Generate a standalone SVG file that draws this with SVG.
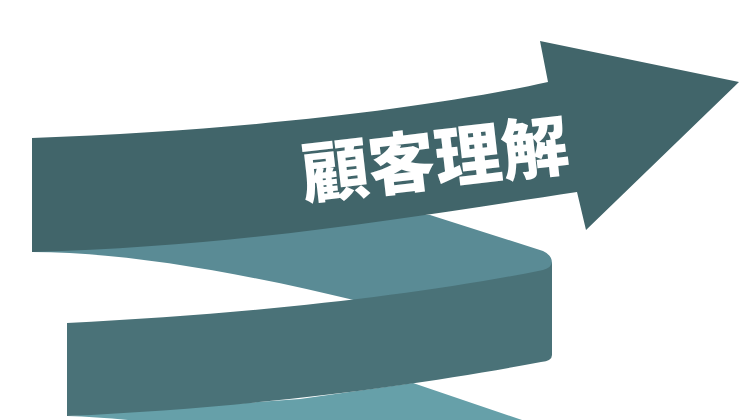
<svg xmlns="http://www.w3.org/2000/svg" width="741" height="420" viewBox="0 0 741 420">
<style>
.lbl{font-family:"Noto Sans CJK JP","Noto Sans CJK SC",sans-serif;font-weight:900;fill:#ffffff;font-size:67px}
</style>
<rect width="741" height="420" fill="#ffffff"/>
<g id="band-bottom">
<path d="M67,416 Q100,417 138,421 L525,421 L413,383 L300,399 Z" fill="#66a0a9"/>
</g>
<g id="band-back">
<path d="M32,252 C130,252 250,275 358,301 L552,275 L552,263 Q552,255 543,251 L430,215 L300,210 L32,245 Z" fill="#5a8b95"/>
</g>
<g id="band-middle">
<path d="M67,323 C250,314 420,295 543,270 Q552,267 552,262 L552,355 Q552,361 541,362 C420,385 250,408 67,416 Z" fill="#4a7278"/>
</g>
<g id="arrow-top">
<path d="M32,138 C250,130 430,108 548,82 L540,41 L739,82 L586,230 L577,192 C430,214 250,246 32,252 Z" fill="#41656a"/>
<text class="lbl" x="435" y="184" text-anchor="middle" transform="rotate(-6.5 435 161)">顧客理解</text>
</g>
</svg>
